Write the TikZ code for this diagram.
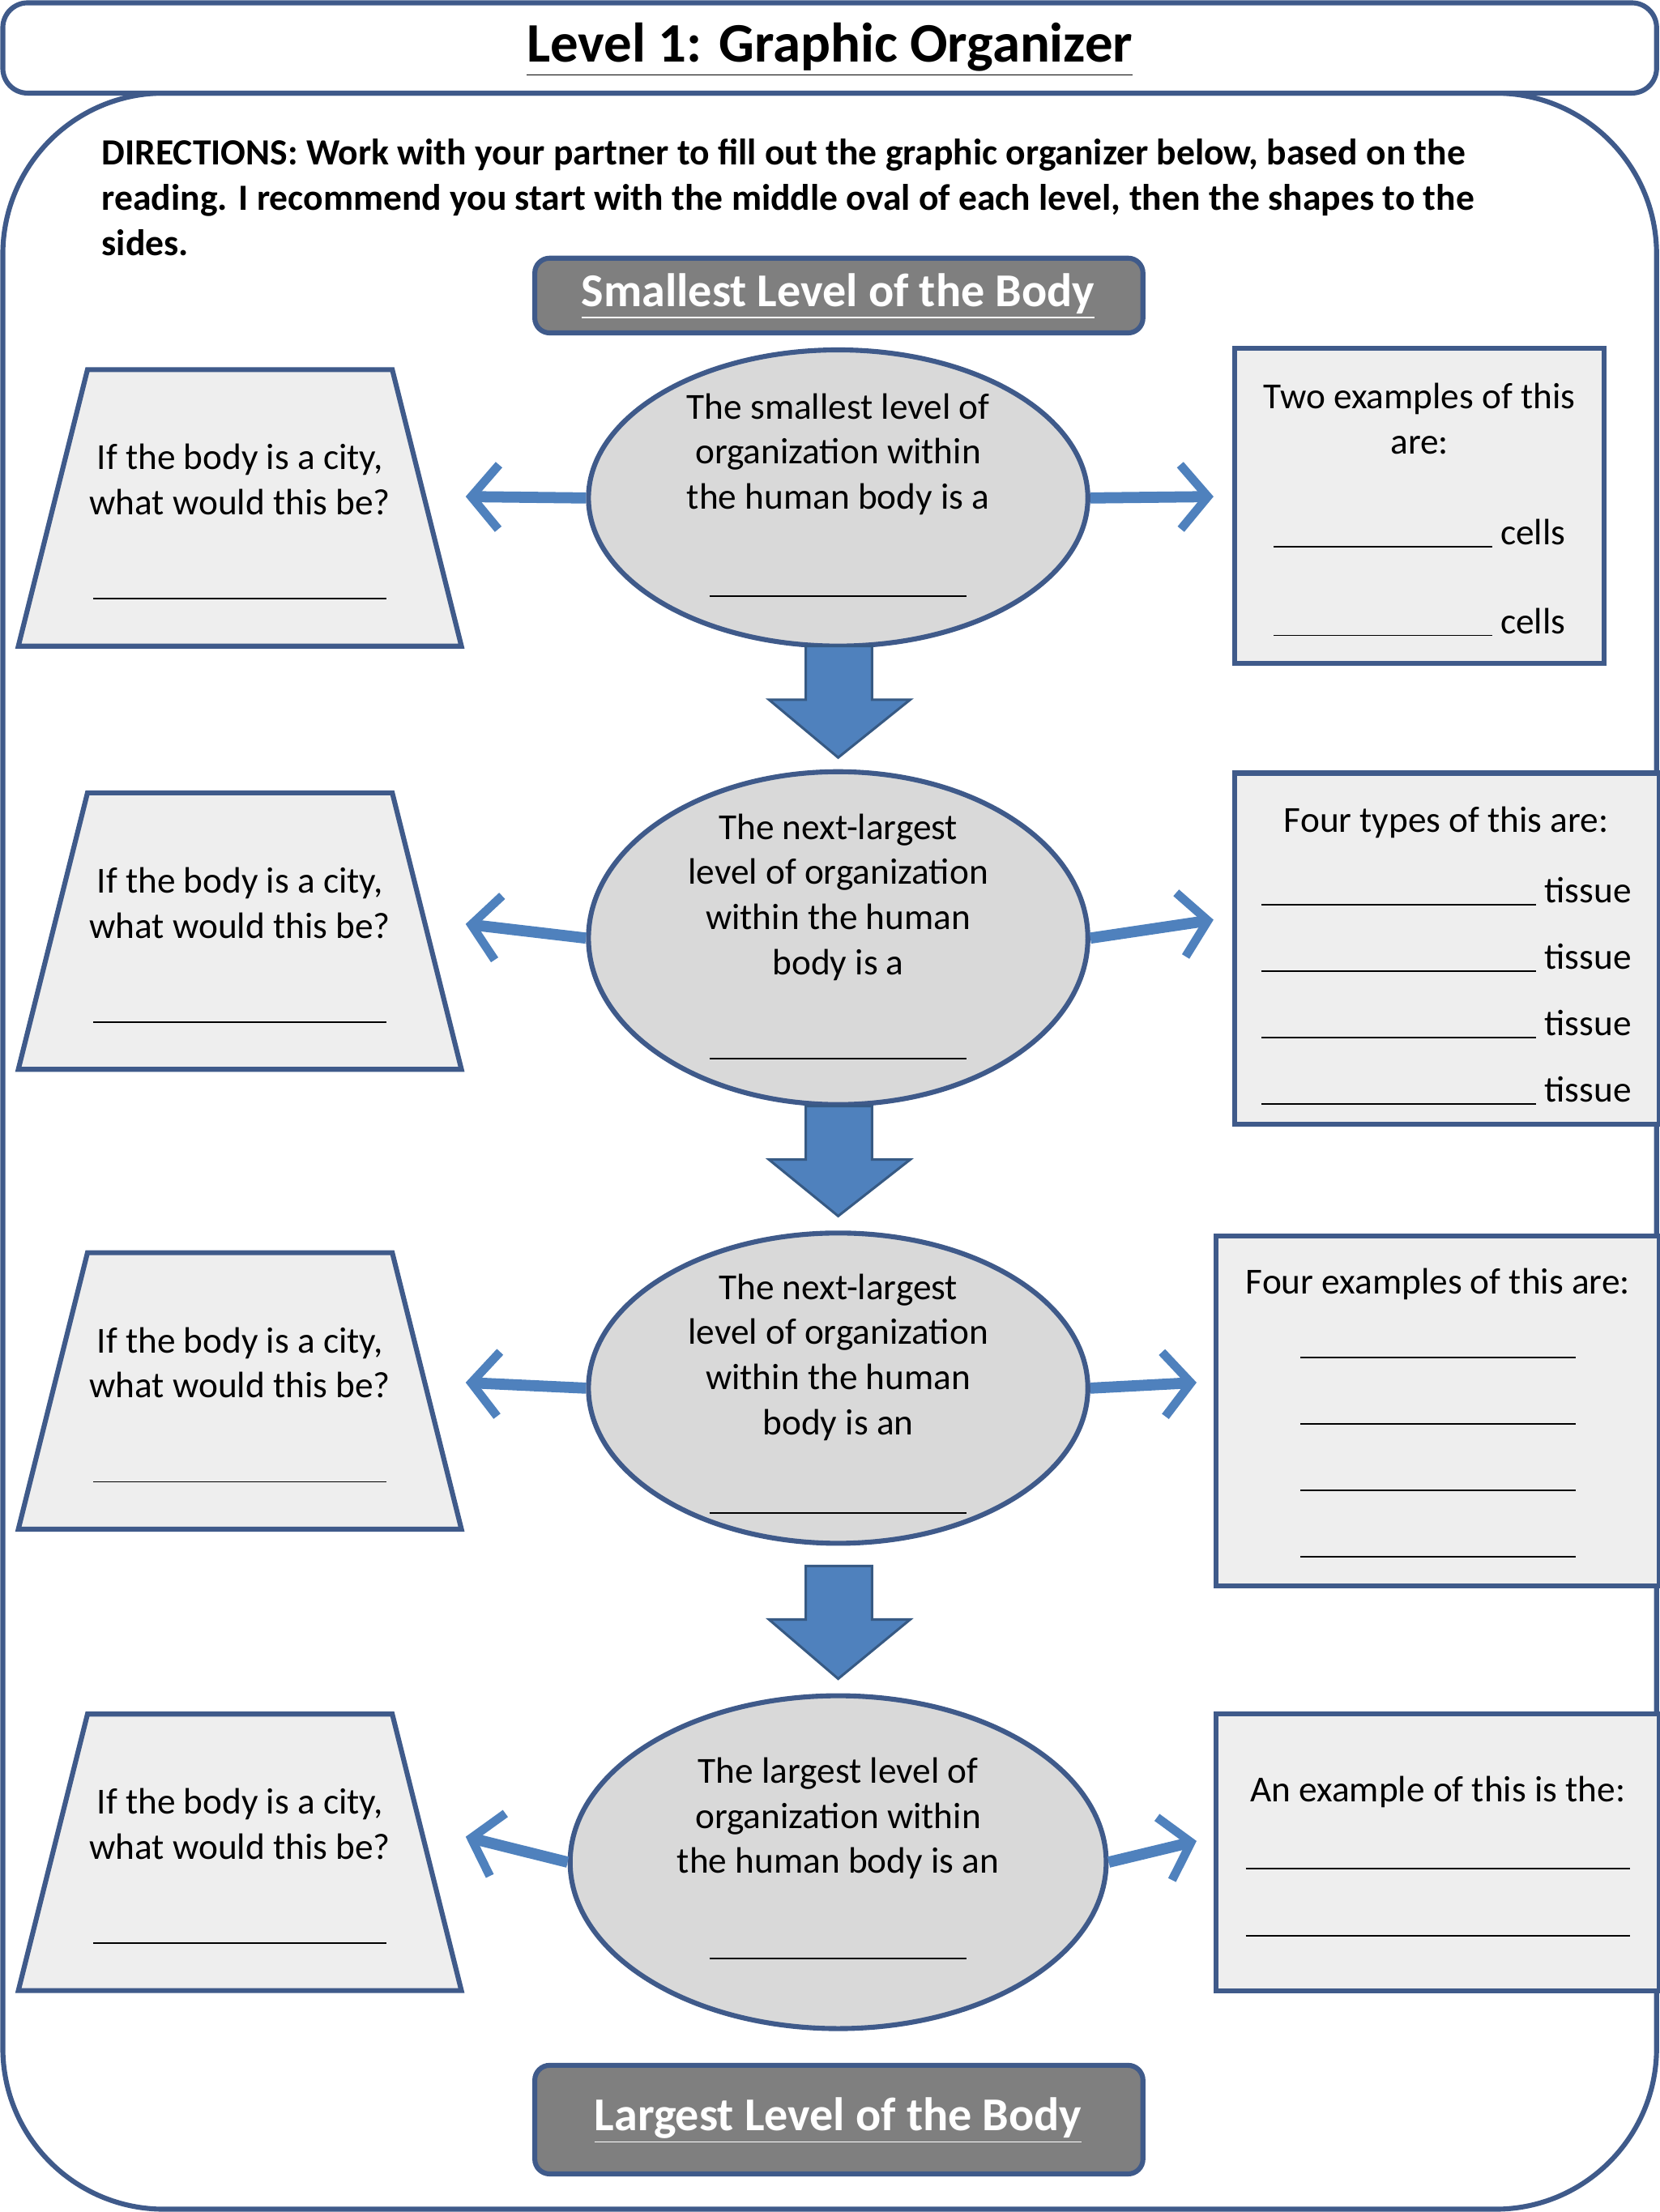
\documentclass[tikz,border=0pt]{standalone}
\usepackage{fontspec}
\setmainfont{Carlito}
\usetikzlibrary{arrows.meta,shapes.geometric}
\definecolor{frameblue}{HTML}{3F5A8A}
\definecolor{arrowblue}{HTML}{4F81BD}
\definecolor{boxgray}{HTML}{EEEEEE}
\definecolor{ovalgray}{HTML}{D9D9D9}
\definecolor{headgray}{HTML}{7F7F7F}
\newcommand{\blank}[1]{\rule[-1pt]{#1}{0.6pt}}
\tikzset{
  body/.style={font=\fontsize{14.8}{18.2}\selectfont, align=center},
  shape line/.style={draw=frameblue, line width=2pt, fill=boxgray},
  oval/.style={ellipse, draw=frameblue, line width=2pt, fill=ovalgray},
  head box/.style={draw=frameblue, line width=2pt, fill=headgray, rounded corners=6pt},
  head text/.style={text=white, font=\fontsize{19}{22}\selectfont\bfseries},
  side arrow/.style={arrowblue, line width=4.5pt, -{Straight Barb[length=11pt,width=26pt,line width=3.5pt]}},
  down arrow/.style={fill=arrowblue, draw=arrowblue!70!black, line width=1pt}
}
\begin{document}
\begin{tikzpicture}[x=0.02cm, y=-0.02cm]
  \useasboundingbox (0,0) rectangle (1176,1568);
  % ---------------------------------------------
  \draw[frameblue, line width=2pt, rounded corners=65pt] (2,66) rectangle (1174,1566);
  \draw[frameblue, line width=2pt, fill=white, rounded corners=10] (2,2) rectangle (1174,66);
  \node (title) at (588,35) {\fontsize{22.5}{26}\selectfont\bfseries\underline{Level 1: Graphic Organizer}};
  \node[anchor=north west, text width=20.4cm, align=flush left, font=\fontsize{14.9}{18.3}\selectfont\bfseries] (directions) at (66,92)
    {DIRECTIONS: Work with your partner to fill out the graphic organizer below, based on the reading. I recommend you start with the middle oval of each level, then the shapes to the sides.};

  % headers
  \draw[head box] (379,183) rectangle (810,236);
  \node[head text] (smallest) at (594,210) {\underline{Smallest Level of the Body}};
  \draw[head box] (379,1464) rectangle (810,1541);
  \node[head text] (largest) at (594,1503) {\underline{Largest Level of the Body}};

  % trapezoids (left)
  \foreach \t/\n in {262/1, 562/2, 888/3, 1215/4} {
    \draw[shape line] (62,\t) -- (278,\t) -- (327,\t+196) -- (13,\t+196) -- cycle;
    \node[body] (city\n) at (170,\t+78) {If the body is a city,\\what would this be?};
    \node[body] (cityblank\n) at (170,\t+162) {\blank{4.15cm}};
  }

  % ovals
  \node[oval, minimum width=7.08cm, minimum height=4.2cm] (oval1) at (594,353) {};
  \node[body] at (594,322) {The smallest level of\\organization within\\the human body is a};
  \node[body] at (594,422) {\blank{3.65cm}};
  \node[oval, minimum width=7.08cm, minimum height=4.72cm] (oval2) at (594,665) {};
  \node[body] at (594,636) {The next-largest\\level of organization\\within the human\\body is a};
  \node[body] at (594,750) {\blank{3.65cm}};
  \node[oval, minimum width=7.08cm, minimum height=4.4cm] (oval3) at (594,984) {};
  \node[body] at (594,962) {The next-largest\\level of organization\\within the human\\body is an};
  \node[body] at (594,1072) {\blank{3.65cm}};
  \node[oval, minimum width=7.6cm, minimum height=4.72cm] (oval4) at (594,1320) {};
  \node[body] at (594,1289) {The largest level of\\organization within\\the human body is an};
  \node[body] at (594,1388) {\blank{3.65cm}};

  % right boxes
  \draw[shape line] (875,247) rectangle (1137,470);
  \node[body] (examples1) at (1006,297) {Two examples of this\\are:};
  \node[body] at (1006,378) {\blank{3.1cm} cells};
  \node[body] at (1006,441) {\blank{3.1cm} cells};
  \draw[shape line] (875,548) rectangle (1176,797);
  \node[body] (examples2) at (1025,583) {Four types of this are:};
  \foreach \y in {632, 679, 726, 773}
    \node[body] at (1025,\y) {\blank{3.9cm} tissue};
  \draw[shape line] (862,876) rectangle (1176,1124);
  \node[body] (examples3) at (1019,910) {Four examples of this are:};
  \foreach \y in {962, 1009, 1056, 1103}
    \node[body] at (1019,\y) {\blank{3.9cm}};
  \draw[shape line] (862,1215) rectangle (1176,1411);
  \node[body] (examples4) at (1019,1270) {An example of this is the:};
  \node[body] at (1019,1324) {\blank{5.45cm}};
  \node[body] at (1019,1372) {\blank{5.45cm}};

  % side arrows
  \coordinate (l1) at (330,352); \coordinate (r1) at (860,352);
  \coordinate (l2) at (330,655); \coordinate (r2) at (860,652);
  \coordinate (l3) at (330,980); \coordinate (r3) at (848,980);
  \coordinate (l4) at (330,1302); \coordinate (r4) at (848,1305);
  \draw[side arrow] (oval1.west) -- (l1);
  \draw[side arrow] (oval1.east) -- (r1);
  \draw[side arrow] (oval2.west) -- (l2);
  \draw[side arrow] (oval2.east) -- (r2);
  \draw[side arrow] (oval3.west) -- (l3);
  \draw[side arrow] (oval3.east) -- (r3);
  \draw[side arrow] (oval4.west) -- (l4);
  \draw[side arrow] (oval4.east) -- (r4);

  % down arrows
  \foreach \a/\b in {458/537, 784/862, 1110/1190}
    \draw[down arrow] (571,\a) -- (618,\a) -- (618,\a+38) -- (645,\a+38) -- (594,\b) -- (545,\a+38) -- (571,\a+38) -- cycle;
\end{tikzpicture}
\end{document}
